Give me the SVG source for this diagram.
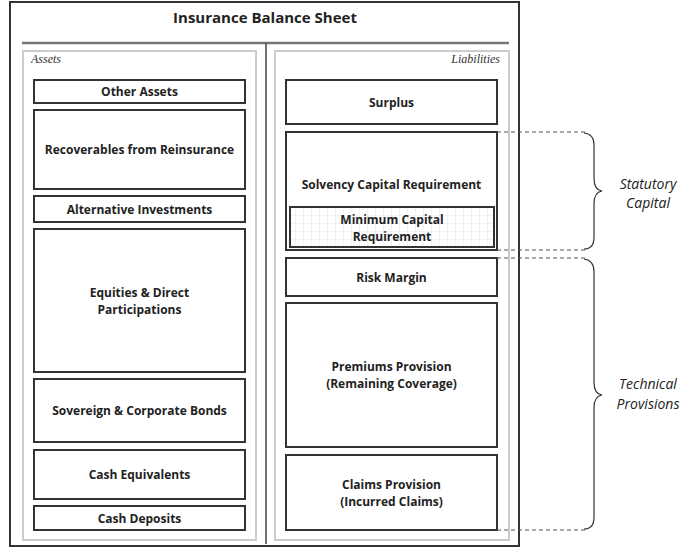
<svg xmlns="http://www.w3.org/2000/svg" width="685" height="549" viewBox="0 0 685 549">
<style>
.b{fill:#fff;stroke:#333;stroke-width:2}
.t{font-family:"Open Sans","Liberation Sans",sans-serif;font-weight:bold;font-size:12px;fill:#222;text-anchor:middle}
.p{fill:none;stroke:#ccc;stroke-width:2}
.d{stroke:#555;stroke-width:1.2;stroke-dasharray:4,3;fill:none}
.br{fill:none;stroke:#333;stroke-width:1.2}
.l{font-family:"Open Sans","Liberation Sans",sans-serif;font-style:italic;font-size:14px;fill:#222;text-anchor:middle}
</style>
<defs>
<pattern id="g" width="8" height="8" patternUnits="userSpaceOnUse"><path d="M8 0V8M0 8H8" stroke="#ddd" stroke-width="0.8" fill="none"/></pattern>
</defs>
<rect x="10" y="2" width="509" height="544" fill="#fff" stroke="#333" stroke-width="2"/>
<text x="265" y="23" class="t" font-size="15" style="font-size:15px">Insurance Balance Sheet</text>
<line x1="22" y1="43" x2="509" y2="43" stroke="#777" stroke-width="2.5"/>
<line x1="266" y1="43" x2="266" y2="544" stroke="#444" stroke-width="1.5"/>
<rect class="p" x="23" y="51" width="233" height="489"/>
<rect class="p" x="275" y="51" width="234" height="489"/>
<text x="31" y="63" font-family="Liberation Serif,serif" font-style="italic" font-size="12" fill="#333">Assets</text>
<text x="500" y="63" font-family="Liberation Serif,serif" font-style="italic" font-size="12" fill="#333" text-anchor="end">Liabilities</text>
<g id="other-assets"><rect class="b" x="34" y="80" width="211" height="23"/><text class="t" x="139.5" y="96">Other Assets</text></g>
<g id="recoverables"><rect class="b" x="34" y="110" width="211" height="79"/><text class="t" x="139.5" y="154">Recoverables from Reinsurance</text></g>
<g id="alt-investments"><rect class="b" x="34" y="196" width="211" height="26"/><text class="t" x="139.5" y="214">Alternative Investments</text></g>
<g id="equities"><rect class="b" x="34" y="229" width="211" height="143"/><text class="t" x="139.5" y="297">Equities &amp; Direct</text><text class="t" x="139.5" y="314">Participations</text></g>
<g id="bonds"><rect class="b" x="34" y="379" width="211" height="63"/><text class="t" x="139.5" y="415">Sovereign &amp; Corporate Bonds</text></g>
<g id="cash-eq"><rect class="b" x="34" y="450" width="211" height="49"/><text class="t" x="139.5" y="479">Cash Equivalents</text></g>
<g id="cash-dep"><rect class="b" x="34" y="506" width="211" height="24"/><text class="t" x="139.5" y="523">Cash Deposits</text></g>
<g id="surplus"><rect class="b" x="286" y="80" width="211" height="44"/><text class="t" x="391.5" y="107">Surplus</text></g>
<g id="scr"><rect class="b" x="286" y="132" width="211" height="118"/><text class="t" x="391.5" y="189">Solvency Capital Requirement</text></g>
<g id="mcr"><rect x="290" y="207" width="204" height="40" fill="url(#g)" stroke="#333" stroke-width="2"/><text class="t" x="392" y="224">Minimum Capital</text><text class="t" x="392" y="241">Requirement</text></g>
<g id="risk-margin"><rect class="b" x="286" y="258" width="211" height="38"/><text class="t" x="391.5" y="282">Risk Margin</text></g>
<g id="premiums"><rect class="b" x="286" y="303" width="211" height="144"/><text class="t" x="391.5" y="371">Premiums Provision</text><text class="t" x="391.5" y="388">(Remaining Coverage)</text></g>
<g id="claims"><rect class="b" x="286" y="455" width="211" height="75"/><text class="t" x="391.5" y="489">Claims Provision</text><text class="t" x="391.5" y="506">(Incurred Claims)</text></g>
<g id="connectors">
<path class="d" d="M497 132H586M497 250H586M497 258H586M497 530H586"/>
<path class="br" d="M584 133Q594 134 594 145V178Q594 190 602 191Q594 192 594 204V237Q594 249 584 249"/>
<path class="br" d="M584 259Q594 260 594 272V382Q594 394 602 395Q594 396 594 408V517Q594 529 584 529"/>
</g>
<g id="statutory"><text class="l" x="648" y="189">Statutory</text><text class="l" x="648" y="208">Capital</text></g>
<g id="technical"><text class="l" x="648" y="389">Technical</text><text class="l" x="648" y="409">Provisions</text></g>
</svg>
